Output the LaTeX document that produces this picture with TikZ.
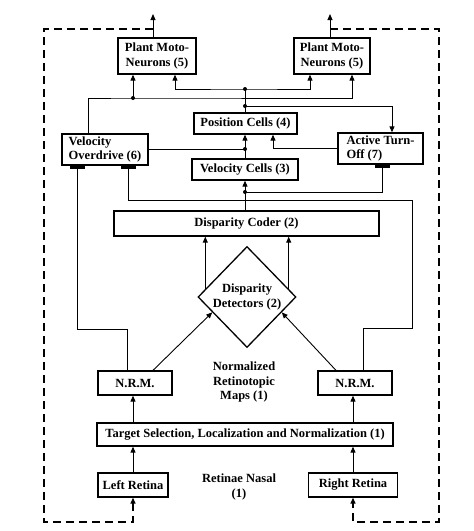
\documentclass[tikz,border=0pt]{standalone}
\usepackage{fontspec}
\setmainfont{Liberation Serif}
\usetikzlibrary{arrows.meta,calc,shapes.geometric}
\begin{document}
\begin{tikzpicture}[x=1pt,y=-1pt,line width=.9pt,>={Triangle[length=6pt,width=5pt]},
  blk/.style={draw,line width=1.3pt,font=\fontsize{12.5}{14.5}\selectfont\bfseries,align=center,inner sep=1pt},
  lab/.style={font=\fontsize{12.5}{14.5}\selectfont\bfseries,align=center},
  jdot/.style={circle,fill,inner sep=0pt,minimum size=4pt},
  inhib/.style={-{Rectangle[length=3.5pt,width=15pt]}},
  fb/.style={line width=1.3pt,dash pattern=on 8pt off 5pt}]
\useasboundingbox (0,0) rectangle (474,531);
\node[blk,minimum width=78,minimum height=36] (pmnL) at (157,56) {Plant Moto-\\Neurons (5)};
\node[blk,minimum width=76,minimum height=36] (pmnR) at (332,56) {Plant Moto-\\Neurons (5)};
\node[blk,minimum width=103,minimum height=21] (pc) at (245.5,123.5) {Position Cells (4)};
\node[blk,minimum width=86,minimum height=31,align=left] (vo) at (105,149.5) {Velocity\\Overdrive (6)};
\node[blk,minimum width=85,minimum height=31,align=left] (ato) at (380.5,148.5) {Active Turn-\\Off (7)};
\node[blk,minimum width=106,minimum height=21] (vc) at (245,169.5) {Velocity Cells (3)};
\node[blk,minimum width=265,minimum height=25] (dc) at (246.5,223.5) {Disparity Coder (2)};
\node[blk,diamond,minimum width=98,minimum height=101,inner sep=0pt] (dd) at (247,297) {Disparity\\Detectors (2)};
\node[blk,minimum width=74,minimum height=24] (nrmL) at (135,383) {N.R.M.};
\node[blk,minimum width=74,minimum height=24] (nrmR) at (355,383) {N.R.M.};
\node[blk,minimum width=296,minimum height=23] (tsel) at (245,434.5) {Target Selection, Localization and Normalization (1)};
\node[blk,minimum width=70,minimum height=24] (retL) at (133,485) {Left Retina};
\node[blk,minimum width=89,minimum height=24] (retR) at (353,485) {Right Retina};
\node[lab] (nrmlab) at (244,382) {Normalized\\Retinotopic\\Maps (1)};
\node[lab] (rnlab) at (239,487) {Retinae Nasal\\(1)};
\coordinate (jA) at (245,192);
\coordinate (jB) at (245,149);
\coordinate (jC) at (245,106);
\coordinate (jD) at (245,89);
\coordinate (jE) at (133,98);
\coordinate (kL) at (77,329);
\coordinate (kR) at (412,328);
\coordinate (kS) at (128,200);
\coordinate (oL) at (153,14);
\coordinate (oR) at (330,14);
\coordinate (fL) at (153,29);
\coordinate (cL) at (44,522);
\coordinate (fR) at (330,29);
\coordinate (cR) at (439,522);
\foreach \j in {jA,jB,jC,jD,jE} \node[jdot] at (\j) {};
\draw[->] (retL.north) -- (retL.north |- tsel.south);
\draw[->] (retR.north) -- (retR.north |- tsel.south);
\draw[->] (retL.north |- tsel.north) -- (retL.north |- nrmL.south);
\draw[->] (retR.north |- tsel.north) -- (retR.north |- nrmR.south);
\draw[->] ([xshift=18pt]nrmL.north) -- ($(dd.west)!.3!(dd.south)$);
\draw[->] ([xshift=-19pt]nrmR.north) -- ($(dd.east)!.3!(dd.south)$);
\foreach \s in {west,east}
  \draw[->] ($(dd.\s)!.16!(dd.north)$) coordinate (t) -- (t |- dc.south);
\draw[->] (dc.north -| jA) -- (vc.south -| jA);
\draw[->] (vc.north -| jB) -- (pc.south -| jB);
\draw (pc.north -| jC) -- (jD);
\draw[<->] ([xshift=18pt]pmnL.south) |- (jD) -| ([xshift=-22pt]pmnR.south);
\draw[->] ([xshift=-17pt]vo.north) |- (jE) -| ([xshift=20pt]pmnR.south);
\draw[->] (jE) -- ([xshift=-24pt]pmnL.south);
\draw[->] (jC) -| ([xshift=11.5pt]ato.north);
\draw (vo.east |- jB) -- (jB);
\draw[->] (ato.west) -| ([xshift=27.5pt]pc.south);
\draw[inhib] ([xshift=-8pt]nrmL.north) |- (kL) -- (kL |- vo.south);
\draw[inhib] ([xshift=8pt]nrmR.north) |- (kR) |- (kS) -- (kS |- vo.south);
\draw[inhib] (jA) -| ([xshift=1.5pt]ato.south);
\draw[->] ([xshift=-4pt]pmnL.north) -- (oL);
\draw[->] ([xshift=-2pt]pmnR.north) -- (oR);
\draw[fb,->] (fL) -| (cL) -| (retL.south);
\draw[fb,->] (fR) -| (cR) -| (retR.south);
\end{tikzpicture}
\end{document}
